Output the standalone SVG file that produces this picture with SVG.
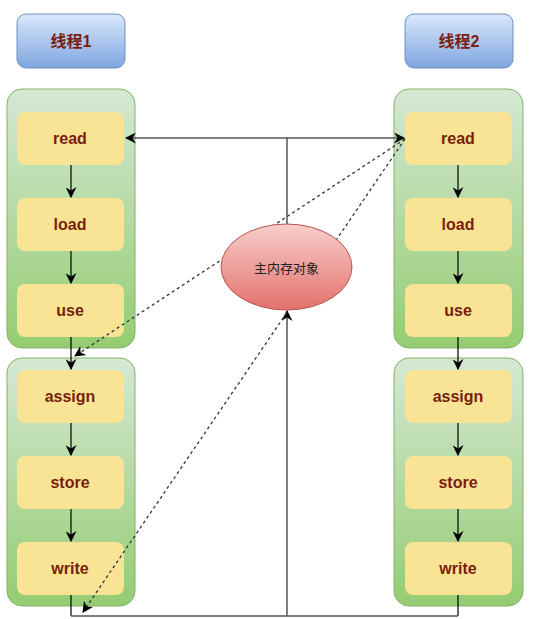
<svg xmlns="http://www.w3.org/2000/svg" width="536" height="619" viewBox="0 0 536 619">
<defs>
<linearGradient id="gBlue" x1="0" y1="0" x2="0" y2="1"><stop offset="0" stop-color="#dae8fc"/><stop offset="1" stop-color="#7ea6e0"/></linearGradient>
<linearGradient id="gGreen" x1="0" y1="0" x2="0" y2="1"><stop offset="0" stop-color="#d5e8d4"/><stop offset="1" stop-color="#94cc72"/></linearGradient>
<linearGradient id="gRed" x1="0" y1="0" x2="0" y2="1"><stop offset="0" stop-color="#f8cecc"/><stop offset="1" stop-color="#e4716c"/></linearGradient>
<marker id="arr" viewBox="0 0 10 10" refX="9" refY="5" markerWidth="11" markerHeight="11" markerUnits="userSpaceOnUse" orient="auto"><path d="M0,0 L10,5 L0,10 L3,5 Z" fill="#000"/></marker>
</defs>
<style>
.title{fill:url(#gBlue);stroke:#6c8ebf;stroke-width:1}
.cont{fill:url(#gGreen);stroke:#82b366;stroke-width:1}
.op{fill:#f9e496;stroke:none}
.t{font-family:"Liberation Sans","Noto Sans CJK SC",sans-serif;font-weight:bold;font-size:16px;fill:#7a1e0c;text-anchor:middle;dominant-baseline:central}
.e{font-family:"Noto Sans CJK SC","Liberation Sans",sans-serif;font-size:13px;fill:#222;text-anchor:middle;dominant-baseline:central}
.s{fill:none;stroke:#000;stroke-width:1.2}
.g{fill:none;stroke:#555;stroke-width:1.5}
.d{fill:none;stroke:#333;stroke-width:1.3;stroke-dasharray:3,3}
</style>
<g id="title1"><rect class="title" x="17" y="14" width="108" height="54" rx="9"/><text class="t" x="71" y="41">线程1</text></g>
<g id="title2"><rect class="title" x="405" y="14" width="108" height="54" rx="9"/><text class="t" x="459" y="41">线程2</text></g>
<g id="c1a"><rect class="cont" x="7" y="89" width="128" height="259" rx="15"/></g>
<g id="c1b"><rect class="cont" x="7" y="358" width="128" height="248" rx="15"/></g>
<g id="c2a"><rect class="cont" x="394" y="89" width="129" height="259" rx="15"/></g>
<g id="c2b"><rect class="cont" x="394" y="358" width="129" height="248" rx="15"/></g>
<g id="t1read"><rect class="op" x="17" y="112" width="107" height="53" rx="8"/><text class="t" x="70" y="138">read</text></g>
<g id="t1load"><rect class="op" x="17" y="198" width="107" height="53" rx="8"/><text class="t" x="70" y="224">load</text></g>
<g id="t1use"><rect class="op" x="17" y="284" width="107" height="53" rx="8"/><text class="t" x="70" y="310">use</text></g>
<g id="t1assign"><rect class="op" x="17" y="370" width="107" height="53" rx="8"/><text class="t" x="70" y="396">assign</text></g>
<g id="t1store"><rect class="op" x="17" y="456" width="107" height="53" rx="8"/><text class="t" x="70" y="482">store</text></g>
<g id="t1write"><rect class="op" x="17" y="542" width="107" height="53" rx="8"/><text class="t" x="70" y="568">write</text></g>
<g id="t2read"><rect class="op" x="405" y="112" width="107" height="53" rx="8"/><text class="t" x="458" y="138">read</text></g>
<g id="t2load"><rect class="op" x="405" y="198" width="107" height="53" rx="8"/><text class="t" x="458" y="224">load</text></g>
<g id="t2use"><rect class="op" x="405" y="284" width="107" height="53" rx="8"/><text class="t" x="458" y="310">use</text></g>
<g id="t2assign"><rect class="op" x="405" y="370" width="107" height="53" rx="8"/><text class="t" x="458" y="396">assign</text></g>
<g id="t2store"><rect class="op" x="405" y="456" width="107" height="53" rx="8"/><text class="t" x="458" y="482">store</text></g>
<g id="t2write"><rect class="op" x="405" y="542" width="107" height="53" rx="8"/><text class="t" x="458" y="568">write</text></g>
<g id="connectors">
<path class="s" d="M71,165 V197" marker-end="url(#arr)"/>
<path class="s" d="M71,251 V283" marker-end="url(#arr)"/>
<path class="s" d="M71,337 V369" marker-end="url(#arr)"/>
<path class="s" d="M71,423 V455" marker-end="url(#arr)"/>
<path class="s" d="M71,509 V541" marker-end="url(#arr)"/>
<path class="s" d="M458,165 V197" marker-end="url(#arr)"/>
<path class="s" d="M458,251 V283" marker-end="url(#arr)"/>
<path class="s" d="M458,337 V369" marker-end="url(#arr)"/>
<path class="s" d="M458,423 V455" marker-end="url(#arr)"/>
<path class="s" d="M458,509 V541" marker-end="url(#arr)"/>
<path class="g" d="M287,224 V138 H126" marker-end="url(#arr)"/>
<path class="g" d="M287,138 H404" marker-end="url(#arr)"/>
<path class="s" d="M71,595 V616"/>
<path class="s" d="M458,595 V616"/>
<path class="g" d="M71,616 H458"/>
<path class="g" d="M287,616 V311" marker-end="url(#arr)"/>
<path class="d" d="M405,139 L75,356" marker-end="url(#arr)"/>
<path class="d" d="M405,139 L83,612" marker-end="url(#arr)"/>
</g>
<g id="memory"><ellipse cx="286.5" cy="267" rx="65.5" ry="43" fill="url(#gRed)" stroke="#b85450" stroke-width="1"/><text class="e" x="286.5" y="267">主内存对象</text></g>
</svg>
